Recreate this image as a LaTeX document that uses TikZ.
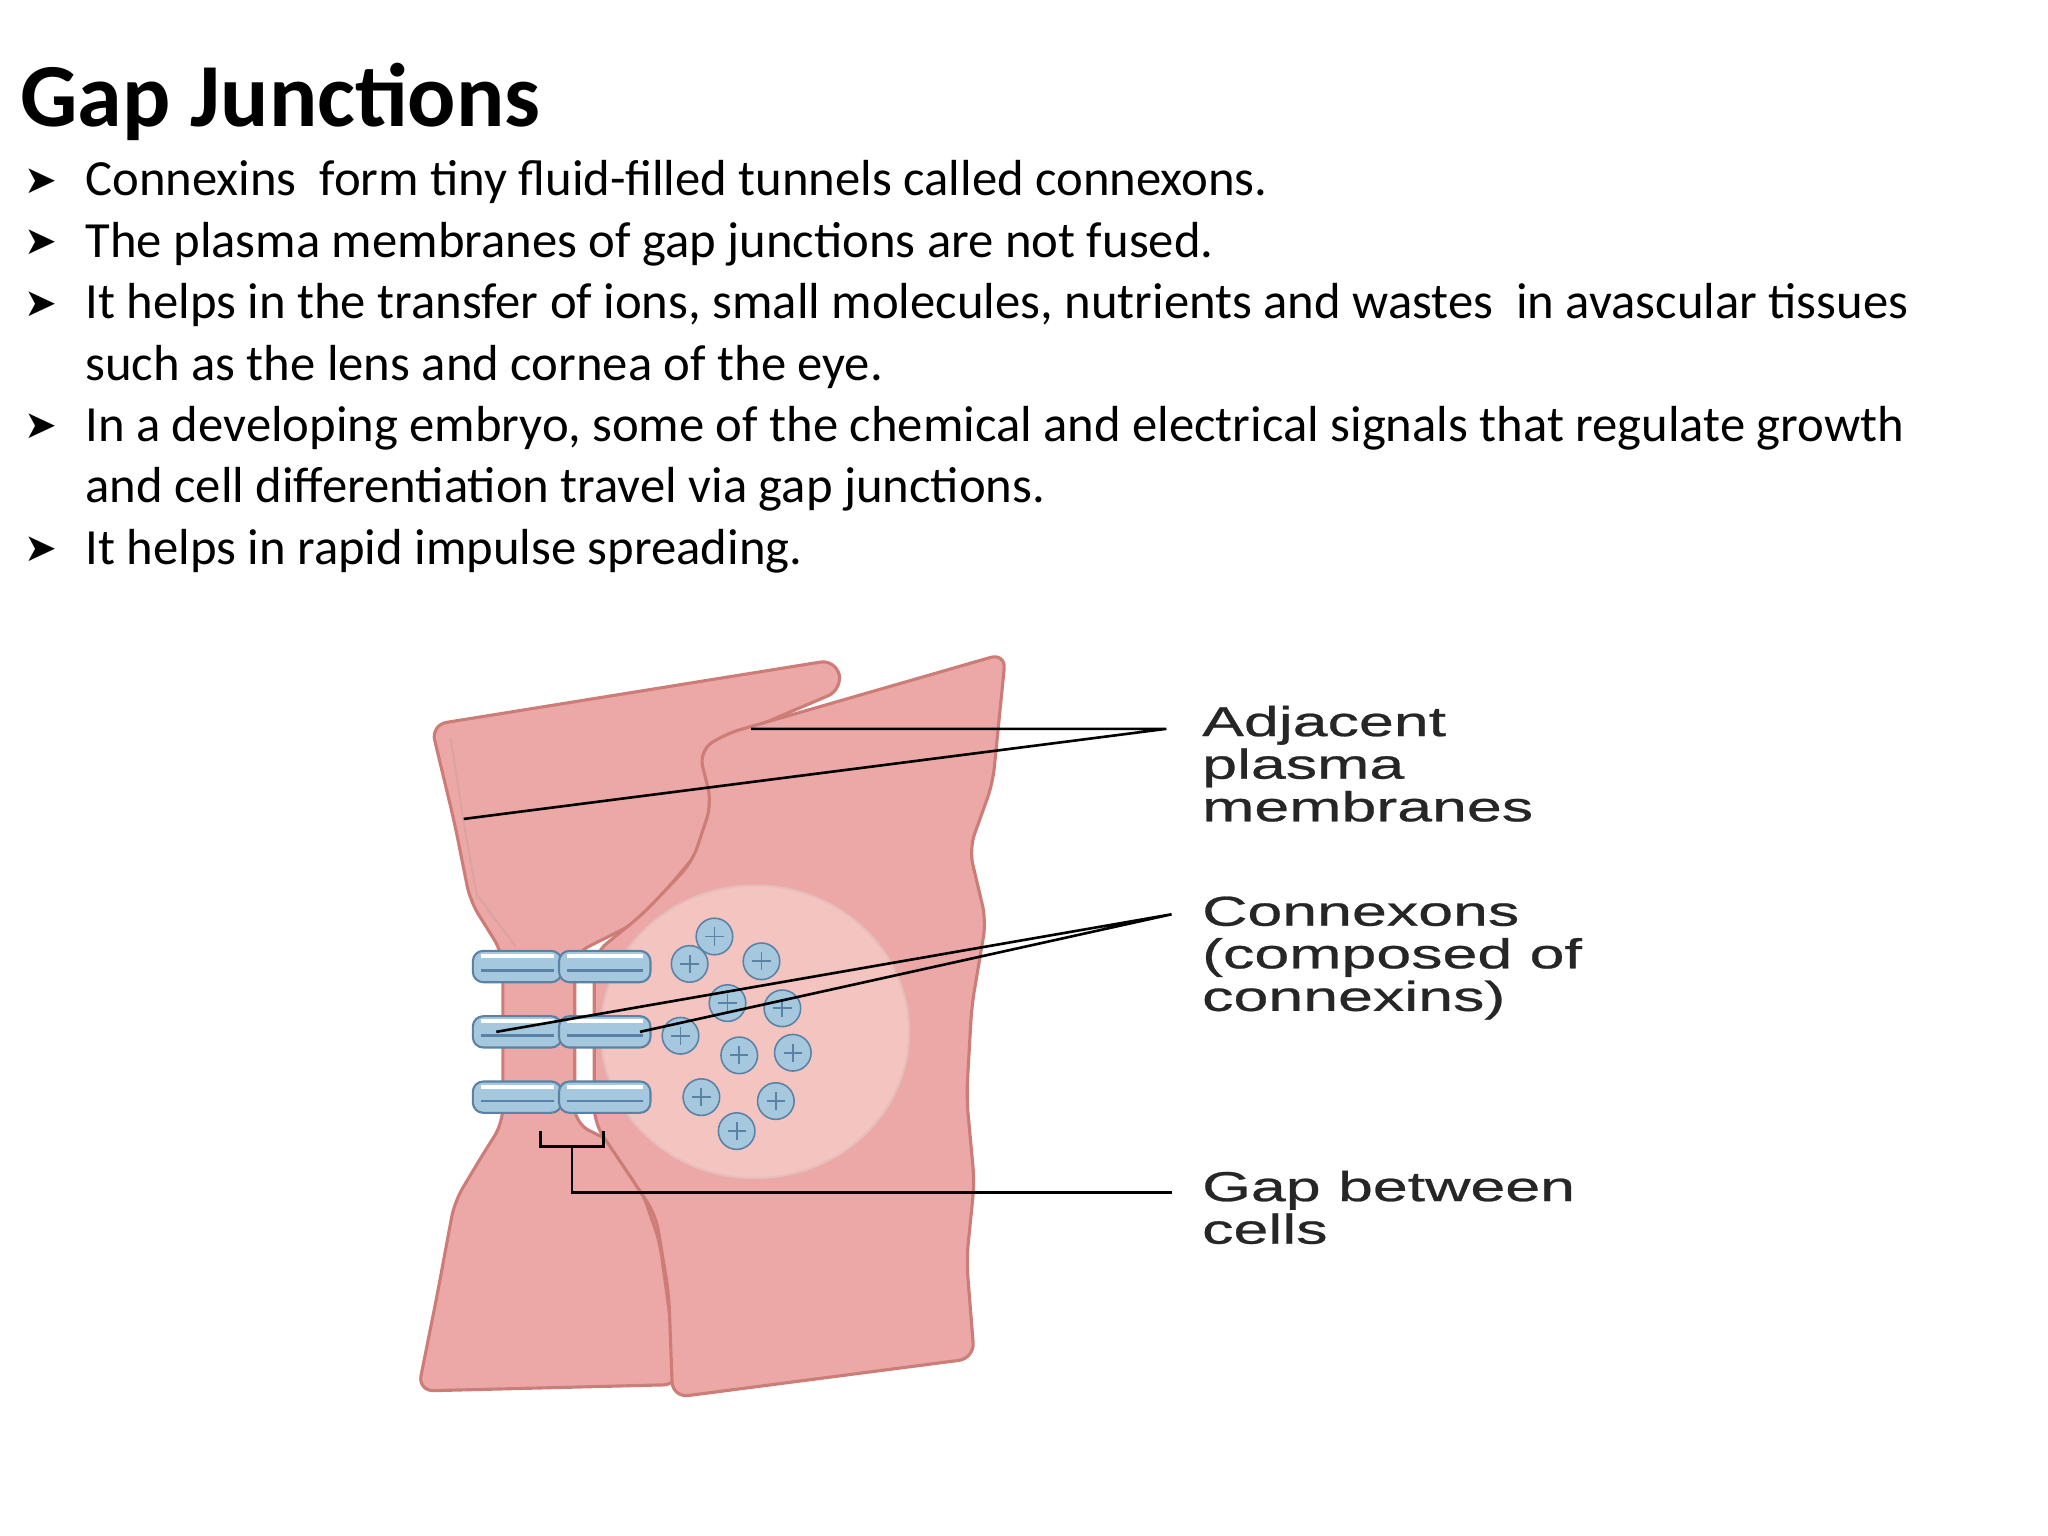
\documentclass[tikz,border=0pt]{standalone}
\usepackage{fontspec}
\setmainfont{Carlito}
\newfontfamily\lab[FakeStretch=1.5,FakeBold=0.6]{Liberation Sans}
\newfontfamily\sym{DejaVu Sans}
\definecolor{skin}{RGB}{236,168,166}
\definecolor{skinE}{RGB}{205,125,120}
\definecolor{skinL}{RGB}{244,196,192}
\definecolor{cxF}{RGB}{165,200,222}
\definecolor{cxE}{RGB}{90,130,165}
\begin{document}
\begin{tikzpicture}[x=0.5pt,y=-0.5pt,
  txt/.style={anchor=base west,inner sep=0,font=\fontsize{19.4}{23}\selectfont},
  bul/.style={anchor=base west,inner sep=0,font=\sym\fontsize{15}{18}\selectfont},
  lbl/.style={anchor=north west,inner sep=0,align=left,text=black!85,font=\lab\fontsize{16}{16.3}\selectfont},
  sheet/.style={fill=skin,draw=skinE,line width=1.2pt,rounded corners=6pt},
  conn/.style={fill=cxF,draw=cxE,line width=0.8pt,rounded corners=4pt},
  dot/.style={circle,minimum size=14pt,inner sep=0,fill=cxF,draw=cxE,line width=0.6pt},
  ln/.style={line width=1pt,black}]
\useasboundingbox (0,0) rectangle (1568,1176);
\fill[white] (0,0) rectangle (1568,1176);
\node[anchor=base west,inner sep=0,font=\bfseries\fontsize{34.5}{40}\selectfont] (title) at (15,97) {Gap Junctions};
\foreach \y/\t [count=\i] in {150/{Connexins\ \ form tiny fluid-filled tunnels called connexons.},
 197/{The plasma membranes of gap junctions are not fused.},
 244/{It helps in the transfer of ions, small molecules, nutrients and wastes\ \ in avascular tissues},
 338/{In a developing embryo, some of the chemical and electrical signals that regulate growth},
 432/{It helps in rapid impulse spreading.}}
 { \node[bul] (b\i) at (18,\y-2) {➤}; \node[txt] (t\i) at (65,\y) {\t}; }
\node[txt] (t3b) at (65,291) {such as the lens and cornea of the eye.};
\node[txt] (t4b) at (65,385) {and cell differentiation travel via gap junctions.};
% left sheet
\path[sheet] (330,555) -- (640,505) -- (645,528) -- (570,560) -- (545,640) -- (490,705) -- (440,730) -- (440,860) -- (480,880) -- (505,950) -- (520,1060) -- (320,1065) -- (335,990) -- (348,920) -- (372,880) -- (385,860) -- (385,730) -- (360,690) -- (348,630) -- cycle;
\draw[skinE!70,line width=0.8pt] (345,565) -- (355,630) -- (365,685) -- (395,725);
% right sheet
\path[sheet] (535,575) -- (555,562) -- (770,500) -- (760,600) -- (742,650) -- (755,705) -- (744,770) -- (740,840) -- (746,905) -- (740,965) -- (746,1040) -- (515,1070) -- (512,990) -- (502,930) -- (472,885) -- (455,860) -- (455,730) -- (492,700) -- (530,660) -- (545,615) -- cycle;
\fill[skinL] (578,790) ellipse (118 and 112);
\draw[skinE!50,line width=0.8pt] (578,790) ellipse (118 and 112);
% connexons
\foreach \y [count=\k] in {740,790,840}{
  \path[conn] (362,\y-12) rectangle (430,\y+12);
  \path[conn] (428,\y-12) rectangle (498,\y+12);
  \draw[white,line width=1.5pt] (368,\y-8) -- (424,\y-8) (434,\y-8) -- (492,\y-8);
  \draw[cxE,line width=1pt] (368,\y+3) -- (424,\y+3) (434,\y+3) -- (492,\y+3);
}
\foreach \x/\y [count=\k] in {547/717,528/738,583/736,557/768,599/772,521/793,566/808,607/806,537/840,594/843,564/866}{
  \node[dot] (d\k) at (\x,\y) {};
  \draw[cxE,line width=0.7pt] (\x-7,\y) -- (\x+7,\y) (\x,\y-7) -- (\x,\y+7);
}
% labels
\node[lbl] (l1) at (920,540) {Adjacent\\plasma\\membranes};
\node[lbl] (l2) at (920,686) {Connexons\\(composed of\\connexins)};
\node[lbl] (l3) at (920,896) {Gap between\\cells};
\coordinate (p1) at (893,558); \coordinate (p2) at (897,700); \coordinate (p3) at (897,913);
\coordinate (m1) at (575,558); \coordinate (m2) at (355,627);
\coordinate (c1) at (380,790); \coordinate (c2) at (490,790);
\draw[ln] (m1) -- (p1) -- (m2);
\draw[ln] (c1) -- (p2) -- (c2);
\draw[ln] (414,866) -- (414,878) -- (462,878) -- (462,866);
\draw[ln] (438,878) |- (p3);
\end{tikzpicture}
\end{document}
